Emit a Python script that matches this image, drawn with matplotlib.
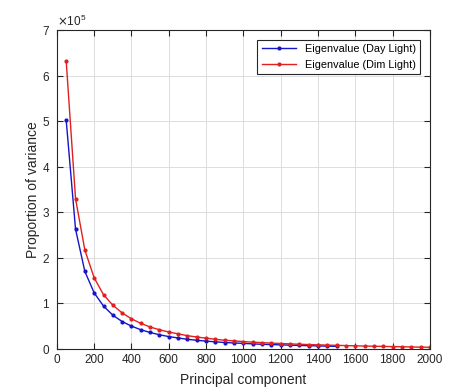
import numpy as np
import matplotlib
matplotlib.use("Agg")
import matplotlib.pyplot as plt
from matplotlib.ticker import ScalarFormatter

plt.rcParams['font.family'] = ['Liberation Sans', 'DejaVu Sans']

# principal component index (every 50th)
pc_day = np.arange(50, 1501, 50)
pc_dim = np.arange(50, 2001, 50)

# eigenvalues, units of 1e5
day = [5.02, 2.63, 1.70, 1.23, 0.94, 0.74, 0.60, 0.50, 0.42, 0.36,
       0.31, 0.27, 0.24, 0.21, 0.19, 0.17, 0.155, 0.14, 0.13, 0.12,
       0.11, 0.10, 0.095, 0.088, 0.082, 0.076, 0.07, 0.065, 0.06, 0.056]
dim = [6.32, 3.30, 2.17, 1.56, 1.19, 0.96, 0.79, 0.66, 0.56, 0.48,
       0.42, 0.37, 0.33, 0.29, 0.26, 0.235, 0.21, 0.19, 0.175, 0.16,
       0.148, 0.137, 0.127, 0.118, 0.11, 0.102, 0.095, 0.089, 0.083, 0.078,
       0.072, 0.067, 0.062, 0.058, 0.054, 0.05, 0.046, 0.042, 0.038, 0.035]
day = np.array(day) * 1e5
dim = np.array(dim) * 1e5

fig = plt.figure(figsize=(4.74, 3.92), dpi=100)
ax = fig.add_axes([0.120, 0.110, 0.787, 0.813])

ax.plot(pc_day, day, color='#1414c8', marker='.', markersize=4, lw=1.0,
        label='Eigenvalue (Day Light)')
ax.plot(pc_dim, dim, color='#e02020', marker='.', markersize=4, lw=1.0,
        label='Eigenvalue (Dim Light)')

ax.set_xlim(0, 2000)
ax.set_ylim(0, 7e5)
ax.set_xticks(np.arange(0, 2001, 200))
ax.set_yticks(np.arange(0, 7.01e5, 1e5))
fmt = ScalarFormatter(useMathText=True)
fmt.set_powerlimits((0, 0))
ax.yaxis.set_major_formatter(fmt)

ax.grid(True, color='#dcdcdc', lw=0.7)
ax.set_axisbelow(True)
ax.tick_params(direction='in', top=True, right=True, labelsize=8.5,
               colors='#262626', length=4)
ax.tick_params(axis='y', pad=5)
for s in ax.spines.values():
    s.set_color('#262626')
    s.set_linewidth(0.8)
ax.yaxis.get_offset_text().set_fontsize(8.5)

ax.set_xlabel('Principal component', fontsize=10, color='#262626', labelpad=5)
ax.set_ylabel('Proportion of variance', fontsize=10, color='#262626', labelpad=1)

leg = ax.legend(loc='upper right', fontsize=7.8, fancybox=False,
                edgecolor='#262626', framealpha=1, handlelength=3.2,
                borderaxespad=0.9)
leg.get_frame().set_linewidth(0.8)

fig.savefig('out.png', dpi=100)
